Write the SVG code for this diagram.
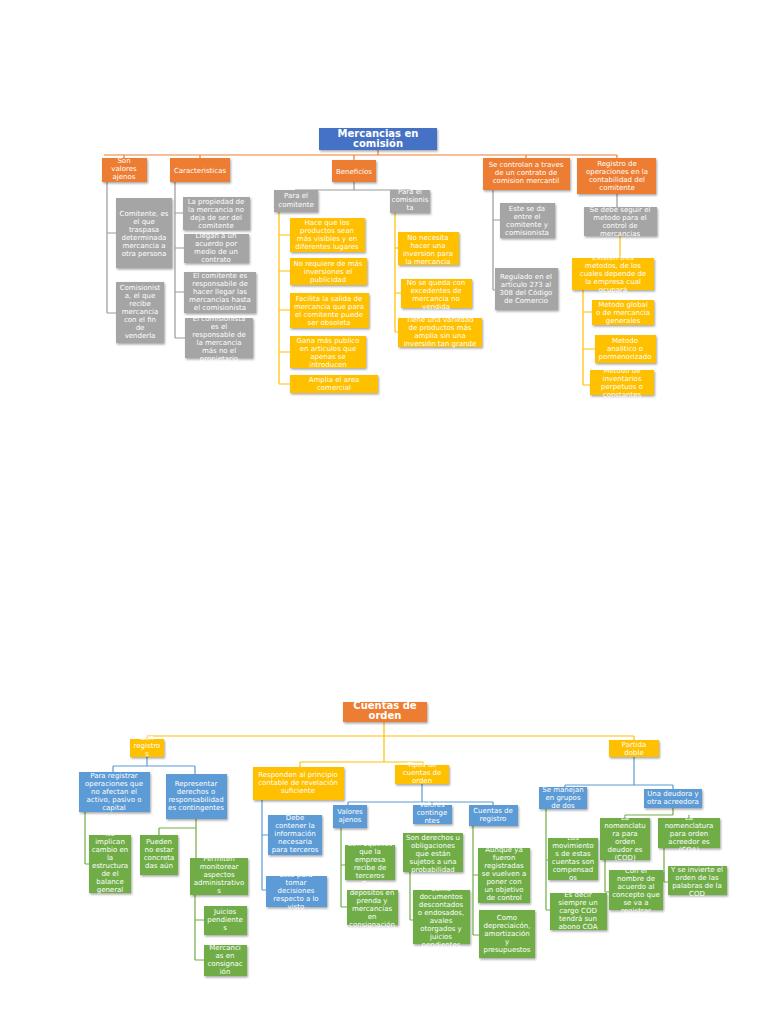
<svg xmlns="http://www.w3.org/2000/svg" width="768" height="1024" viewBox="0 0 768 1024">
<style>
text{font-family:"DejaVu Sans","Liberation Sans",sans-serif;font-size:7px;fill:#fff;text-anchor:middle}
.t{font-size:10px;font-weight:bold}
rect{stroke:none;filter:url(#sh)}
.o{fill:#ED7D31}.g{fill:#A5A5A5}.y{fill:#FFC000}.b{fill:#5B9BD5}.gr{fill:#70AD47}.tb{fill:#4472C4}
#c path{fill:none;stroke-width:1.2}
.lo{stroke:#ED7D31}.lg{stroke:#9A9A9A}.ly{stroke:#FFC000}.lb{stroke:#5B9BD5}.lgr{stroke:#70AD47}
</style>
<defs><filter id="sh" x="-10%" y="-10%" width="130%" height="130%"><feDropShadow dx="1" dy="1.5" stdDeviation="1" flood-opacity="0.35"/></filter></defs>
<rect width="768" height="1024" fill="#fff" style="filter:none"/>
<g id="c">
<path class="lo" d="M378 150V155M104 155H617M124 155V158M200 155V158M354 155V160M526 155V158M617 155V158"/>
<path class="lg" d="M107 182V313M107 233H116M107 313H116M175 182V338M175 213H183M175 248H184M175 292H184M175 338H185M354 182V190M295 190H410M295 190V190M410 190V190M493 190V290M493 220H500M493 290H495M617 194V207"/>
<path class="ly" d="M620 236V258M279 212V384M279 235H290M279 271H290M279 310H290M279 352H290M279 384H290M395 213V332M395 248H398M395 293H401M395 332H398M583 290V385M583 312H592M583 349H595M583 385H590"/>
<path class="ly" d="M384 722V762M147 736H634M147 736V739M634 736V740M300 762H423M300 762V767M423 762V765"/>
<path class="lb" d="M147 757V766M113 766H195M113 766V772M195 766V774M262 800V890M262 835H268M262 890H266M422 784V802M348 802H493M348 802V805M432 802V805M493 802V805M634 757V785M565 785H673M565 785V787M673 785V789"/>
<path class="lgr" d="M85 812V864M85 864H89M196 819V828M159 828H196M159 828V835M196 828V858M195 895V960M195 920H204M195 960H204M341 828V907M341 865H345M341 907H347M410 872V920M410 920H413M473 826V935M473 875H478M473 935H479M673 808V815M625 815H673M625 815V818M689 815V818M546 809V910M546 860H548M546 910H550M605 860V892M605 892H609M664 848V882M664 882H668"/>
</g>
<g id="n_title"><rect class="tb" x="319" y="128" width="118" height="22"/><text class="t" x="378" y="137">Mercancias en</text><text class="t" x="378" y="147">comisión</text></g>
<g id="n1"><rect class="o" x="102" y="158" width="45" height="24"/><text x="124" y="163">Son</text><text x="124" y="171">valores</text><text x="124" y="179">ajenos</text></g>
<g id="n2"><rect class="o" x="170" y="158" width="60" height="24"/><text x="200" y="173">Caracteristicas</text></g>
<g id="n3"><rect class="o" x="332" y="160" width="44" height="22"/><text x="354" y="174">Beneficios</text></g>
<g id="n4"><rect class="o" x="483" y="158" width="87" height="32"/><text x="526" y="167">Se controlan a traves</text><text x="526" y="175">de un contrato de</text><text x="526" y="183">comision mercantil</text></g>
<g id="n5"><rect class="o" x="577" y="158" width="79" height="36"/><text x="617" y="166">Registro de</text><text x="617" y="174">operaciones en la</text><text x="617" y="182">contabilidad del</text><text x="617" y="190">comitente</text></g>
<g id="n6"><rect class="g" x="116" y="198" width="56" height="70"/><text x="144" y="216">Comitente, es</text><text x="144" y="224">el que</text><text x="144" y="232">traspasa</text><text x="144" y="240">determinada</text><text x="144" y="248">mercancia a</text><text x="144" y="256">otra persona</text></g>
<g id="n7"><rect class="g" x="116" y="282" width="48" height="61"/><text x="140" y="290">Comisionist</text><text x="140" y="298">a, el que</text><text x="140" y="306">recibe</text><text x="140" y="314">mercancia</text><text x="140" y="322">con el fin</text><text x="140" y="330">de</text><text x="140" y="338">venderla</text></g>
<g id="n8"><rect class="g" x="183" y="197" width="67" height="33"/><text x="216" y="204">La propiedad de</text><text x="216" y="212">la mercancia no</text><text x="216" y="220">deja de ser del</text><text x="216" y="228">comitente</text></g>
<g id="n9"><rect class="g" x="184" y="234" width="65" height="29"/><text x="216" y="238">Llegan a un</text><text x="216" y="246">acuerdo por</text><text x="216" y="254">medio de un</text><text x="216" y="262">contrato</text></g>
<g id="n10"><rect class="g" x="184" y="272" width="72" height="41"/><text x="220" y="278">El comitente es</text><text x="220" y="286">responsabile de</text><text x="220" y="294">hacer llegar las</text><text x="220" y="302">mercancias hasta</text><text x="220" y="310">el comisionista</text></g>
<g id="n11"><rect class="g" x="185" y="318" width="68" height="40"/><text x="219" y="321">El comisionista</text><text x="219" y="329">es el</text><text x="219" y="337">responsable de</text><text x="219" y="345">la mercancia</text><text x="219" y="353">más no el</text><text x="219" y="361">propietario</text></g>
<g id="n12"><rect class="g" x="274" y="190" width="44" height="22"/><text x="296" y="198">Para el</text><text x="296" y="207">comitente</text></g>
<g id="n13"><rect class="g" x="390" y="190" width="40" height="23"/><text x="410" y="194">Para el</text><text x="410" y="202">comisionis</text><text x="410" y="210">ta</text></g>
<g id="n14"><rect class="y" x="290" y="218" width="75" height="34"/><text x="327" y="225">Hace que los</text><text x="327" y="233">productos sean</text><text x="327" y="241">más visibles y en</text><text x="327" y="249">diferentes lugares</text></g>
<g id="n15"><rect class="y" x="290" y="258" width="77" height="27"/><text x="328" y="266">No requiere de más</text><text x="328" y="274">inversiones el</text><text x="328" y="282">publicidad</text></g>
<g id="n16"><rect class="y" x="290" y="293" width="79" height="35"/><text x="329" y="301">Facilita la salida de</text><text x="329" y="309">mercancia que para</text><text x="329" y="317">el comitente puede</text><text x="329" y="325">ser obsoleta</text></g>
<g id="n17"><rect class="y" x="290" y="336" width="76" height="32"/><text x="328" y="343">Gana más publico</text><text x="328" y="351">en articulos que</text><text x="328" y="359">apenas se</text><text x="328" y="367">introducen</text></g>
<g id="n18"><rect class="y" x="290" y="375" width="88" height="18"/><text x="334" y="382">Amplia el area</text><text x="334" y="390">comercial</text></g>
<g id="n19"><rect class="y" x="398" y="232" width="61" height="33"/><text x="428" y="240">No necesita</text><text x="428" y="248">hacer una</text><text x="428" y="256">inversion para</text><text x="428" y="264">la mercancia</text></g>
<g id="n20"><rect class="y" x="401" y="279" width="71" height="29"/><text x="436" y="285">No se queda con</text><text x="436" y="293">excedentes de</text><text x="436" y="301">mercancia no</text><text x="436" y="309">vendida</text></g>
<g id="n21"><rect class="y" x="398" y="318" width="84" height="29"/><text x="440" y="322">Tiene una variedad</text><text x="440" y="330">de productos más</text><text x="440" y="338">amplia sin una</text><text x="440" y="346">inversión tan grande</text></g>
<g id="n22"><rect class="g" x="500" y="203" width="55" height="35"/><text x="527" y="211">Este se da</text><text x="527" y="219">entre el</text><text x="527" y="227">comitente y</text><text x="527" y="235">comisionista</text></g>
<g id="n23"><rect class="g" x="495" y="268" width="63" height="42"/><text x="526" y="279">Regulado en el</text><text x="526" y="287">articulo 273 al</text><text x="526" y="295">308 del Código</text><text x="526" y="303">de Comercio</text></g>
<g id="n24"><rect class="g" x="584" y="207" width="73" height="29"/><text x="620" y="212">Se debe seguir el</text><text x="620" y="220">metodo para el</text><text x="620" y="228">control de</text><text x="620" y="236">mercancias</text></g>
<g id="n25"><rect class="y" x="572" y="258" width="82" height="32"/><text x="613" y="260">Existen tres</text><text x="613" y="268">metodos, de los</text><text x="613" y="276">cuales depende de</text><text x="613" y="284">la empresa cual</text><text x="613" y="292">ocupará</text></g>
<g id="n26"><rect class="y" x="592" y="300" width="62" height="25"/><text x="623" y="307">Metodo global</text><text x="623" y="315">o de mercancia</text><text x="623" y="323">generales</text></g>
<g id="n27"><rect class="y" x="595" y="335" width="61" height="28"/><text x="625" y="343">Metodo</text><text x="625" y="351">analitico o</text><text x="625" y="359">pormenorizado</text></g>
<g id="n28"><rect class="y" x="590" y="370" width="64" height="25"/><text x="622" y="373">Metodo de</text><text x="622" y="381">inventarios</text><text x="622" y="389">perpetuos o</text><text x="622" y="397">constantes</text></g>
<g id="m_title"><rect class="o" x="343" y="702" width="84" height="20"/><text class="t" x="385" y="709">Cuentas de</text><text class="t" x="385" y="719">orden</text></g>
<g id="m1"><rect class="y" x="130" y="739" width="34" height="18"/><text x="147" y="740">Son</text><text x="147" y="748">registro</text><text x="147" y="756">s</text></g>
<g id="m2"><rect class="b" x="79" y="772" width="71" height="40"/><text x="114" y="778">Para registrar</text><text x="114" y="786">operaciones que</text><text x="114" y="794">no afectan el</text><text x="114" y="802">activo, pasivo o</text><text x="114" y="810">capital</text></g>
<g id="m3"><rect class="b" x="166" y="774" width="61" height="45"/><text x="196" y="786">Representar</text><text x="196" y="794">derechos o</text><text x="196" y="802">responsabilidad</text><text x="196" y="810">es contingentes</text></g>
<g id="m4"><rect class="gr" x="89" y="835" width="42" height="58"/><text x="110" y="836">No</text><text x="110" y="844">implican</text><text x="110" y="852">cambio en</text><text x="110" y="860">la</text><text x="110" y="868">estructura</text><text x="110" y="876">de el</text><text x="110" y="884">balance</text><text x="110" y="892">general</text></g>
<g id="m5"><rect class="gr" x="140" y="835" width="38" height="40"/><text x="159" y="844">Pueden</text><text x="159" y="852">no estar</text><text x="159" y="860">concreta</text><text x="159" y="868">das aún</text></g>
<g id="m6"><rect class="gr" x="190" y="858" width="58" height="37"/><text x="219" y="861">Permiten</text><text x="219" y="869">monitorear</text><text x="219" y="877">aspectos</text><text x="219" y="885">administrativo</text><text x="219" y="893">s</text></g>
<g id="m7"><rect class="gr" x="204" y="906" width="43" height="29"/><text x="225" y="914">Juicios</text><text x="225" y="922">pendiente</text><text x="225" y="930">s</text></g>
<g id="m8"><rect class="gr" x="204" y="945" width="43" height="31"/><text x="225" y="950">Mercanci</text><text x="225" y="958">as en</text><text x="225" y="966">consignac</text><text x="225" y="974">ión</text></g>
<g id="m9"><rect class="y" x="253" y="767" width="91" height="33"/><text x="298" y="777">Responden al principio</text><text x="298" y="785">contable de revelación</text><text x="298" y="793">suficiente</text></g>
<g id="m10"><rect class="y" x="395" y="765" width="54" height="19"/><text x="422" y="767">Tipos de</text><text x="422" y="775">cuentas de</text><text x="422" y="783">orden</text></g>
<g id="m11"><rect class="b" x="268" y="815" width="54" height="40"/><text x="295" y="820">Debe</text><text x="295" y="828">contener la</text><text x="295" y="836">información</text><text x="295" y="844">necesaria</text><text x="295" y="852">para terceros</text></g>
<g id="m12"><rect class="b" x="266" y="876" width="61" height="31"/><text x="296" y="877">Esto para</text><text x="296" y="885">tomar</text><text x="296" y="893">decisiones</text><text x="296" y="901">respecto a lo</text><text x="296" y="909">visto</text></g>
<g id="m13"><rect class="b" x="333" y="805" width="34" height="23"/><text x="350" y="814">Valores</text><text x="350" y="822">ajenos</text></g>
<g id="m14"><rect class="b" x="413" y="805" width="39" height="19"/><text x="432" y="807">Valores</text><text x="432" y="815">continge</text><text x="432" y="823">ntes</text></g>
<g id="m15"><rect class="b" x="469" y="805" width="49" height="21"/><text x="493" y="813">Cuentas de</text><text x="493" y="821">registro</text></g>
<g id="m16"><rect class="gr" x="345" y="845" width="50" height="35"/><text x="370" y="846">Son aquellos</text><text x="370" y="854">que la</text><text x="370" y="862">empresa</text><text x="370" y="870">recibe de</text><text x="370" y="878">terceros</text></g>
<g id="m17"><rect class="gr" x="347" y="890" width="51" height="35"/><text x="372" y="886">Como</text><text x="372" y="895">depositos en</text><text x="372" y="903">prenda y</text><text x="372" y="911">mercancias</text><text x="372" y="919">en</text><text x="372" y="927">consignación</text></g>
<g id="m18"><rect class="gr" x="403" y="833" width="60" height="39"/><text x="433" y="840">Son derechos u</text><text x="433" y="848">obligaciones</text><text x="433" y="856">que están</text><text x="433" y="864">sujetos a una</text><text x="433" y="872">probabilidad</text></g>
<g id="m19"><rect class="gr" x="413" y="890" width="57" height="54"/><text x="441" y="891">Como</text><text x="441" y="899">documentos</text><text x="441" y="907">descontados</text><text x="441" y="915">o endosados,</text><text x="441" y="923">avales</text><text x="441" y="931">otorgados y</text><text x="441" y="939">juicios</text><text x="441" y="947">pendientes</text></g>
<g id="m20"><rect class="gr" x="478" y="848" width="52" height="55"/><text x="504" y="852">Aunque ya</text><text x="504" y="860">fueron</text><text x="504" y="868">registradas</text><text x="504" y="876">se vuelven a</text><text x="504" y="884">poner con</text><text x="504" y="892">un objetivo</text><text x="504" y="900">de control</text></g>
<g id="m21"><rect class="gr" x="479" y="910" width="56" height="48"/><text x="507" y="920">Como</text><text x="507" y="928">depreciaicón,</text><text x="507" y="936">amortización</text><text x="507" y="944">y</text><text x="507" y="952">presupuestos</text></g>
<g id="m22"><rect class="y" x="609" y="740" width="50" height="17"/><text x="634" y="747">Partida</text><text x="634" y="755">doble</text></g>
<g id="m23"><rect class="b" x="539" y="787" width="48" height="22"/><text x="563" y="792">Se manejan</text><text x="563" y="800">en grupos</text><text x="563" y="808">de dos</text></g>
<g id="m24"><rect class="b" x="644" y="789" width="58" height="19"/><text x="673" y="796">Una deudora y</text><text x="673" y="804">otra acreedora</text></g>
<g id="m25"><rect class="gr" x="548" y="838" width="50" height="42"/><text x="573" y="840">Los</text><text x="573" y="848">movimiento</text><text x="573" y="856">s de estas</text><text x="573" y="864">cuentas son</text><text x="573" y="872">compensad</text><text x="573" y="880">os</text></g>
<g id="m26"><rect class="gr" x="550" y="893" width="57" height="37"/><text x="578" y="897">Es decir</text><text x="578" y="905">siempre un</text><text x="578" y="913">cargo COD</text><text x="578" y="921">tendrá sun</text><text x="578" y="929">abono COA</text></g>
<g id="m27"><rect class="gr" x="600" y="818" width="50" height="42"/><text x="625" y="820">La</text><text x="625" y="828">nomenclatu</text><text x="625" y="836">ra para</text><text x="625" y="844">orden</text><text x="625" y="852">deudor es</text><text x="625" y="860">(COD)</text></g>
<g id="m28"><rect class="gr" x="658" y="818" width="62" height="30"/><text x="689" y="820">La</text><text x="689" y="828">nomenclatura</text><text x="689" y="836">para orden</text><text x="689" y="844">acreedor es</text><text x="689" y="852">(COA)</text></g>
<g id="m29"><rect class="gr" x="609" y="870" width="54" height="40"/><text x="636" y="873">Con el</text><text x="636" y="881">nombre de</text><text x="636" y="889">acuerdo al</text><text x="636" y="897">concepto que</text><text x="636" y="905">se va a</text><text x="636" y="913">registrar</text></g>
<g id="m30"><rect class="gr" x="668" y="866" width="59" height="29"/><text x="697" y="872">Y se invierte el</text><text x="697" y="880">orden de las</text><text x="697" y="888">palabras de la</text><text x="697" y="896">COD</text></g>
</svg>
